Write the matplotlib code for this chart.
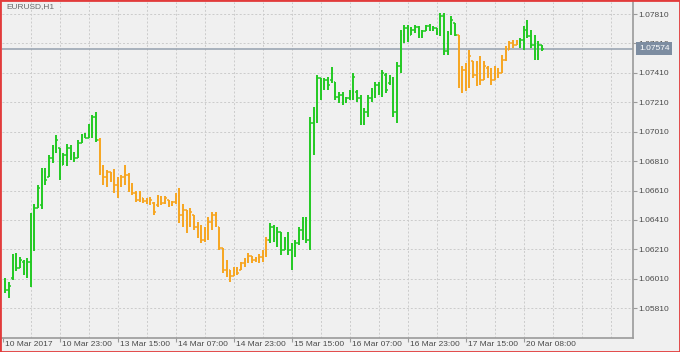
""" EURUSD H1 bar chart, redrawn in the style of a MetaTrader 4 window.

Bars are coloured by trend (green = up, orange = down).

Run as:

    python3 plot.py
"""

import numpy as np
import matplotlib
matplotlib.use("Agg")
import matplotlib.pyplot as plt
from matplotlib.patches import Rectangle

plt.rcParams['font.family'] = ['Liberation Sans', 'DejaVu Sans']

symbol = "EURUSD,H1"
last_price = 1.07574

# hourly bars, 10 Mar 2017 08:00 -> 20 Mar 2017 12:00
highs = [
    1.06015, 1.05988, 1.06178, 1.06185, 1.06158, 1.06137, 1.06151, 1.06457, 1.06518, 1.06647,
    1.06763, 1.06763, 1.06851, 1.06919, 1.06987, 1.06899, 1.06865, 1.06926, 1.06919, 1.06872,
    1.06953, 1.06994, 1.07001, 1.07062, 1.07123, 1.07144, 1.06967, 1.06783, 1.06749, 1.06736,
    1.06756, 1.06702, 1.06715, 1.06783, 1.06729, 1.06661, 1.06606, 1.06606, 1.06559, 1.06559,
    1.06566, 1.06532, 1.06579, 1.06572, 1.06572, 1.06545, 1.06538, 1.06593, 1.06627, 1.06518,
    1.06477, 1.06491, 1.06443, 1.06396, 1.06375, 1.06362, 1.06430, 1.06464, 1.06464, 1.06362,
    1.06219, 1.06137, 1.06069, 1.06090, 1.06090, 1.06124, 1.06151, 1.06185, 1.06164, 1.06158,
    1.06178, 1.06205, 1.06294, 1.06389, 1.06375, 1.06362, 1.06328, 1.06294, 1.06328, 1.06253,
    1.06273, 1.06362, 1.06430, 1.06430, 1.07110, 1.07178, 1.07395, 1.07375, 1.07375, 1.07382,
    1.07450, 1.07348, 1.07280, 1.07280, 1.07246, 1.07293, 1.07409, 1.07293, 1.07259, 1.07171,
    1.07259, 1.07307, 1.07348, 1.07348, 1.07429, 1.07409, 1.07395, 1.07382, 1.07484, 1.07701,
    1.07735, 1.07735, 1.07722, 1.07735, 1.07728, 1.07701, 1.07735, 1.07742, 1.07728, 1.07715,
    1.07817, 1.07817, 1.07694, 1.07796, 1.07749, 1.07667, 1.07456, 1.07477, 1.07565, 1.07490,
    1.07490, 1.07524, 1.07490, 1.07456, 1.07443, 1.07456, 1.07443, 1.07531, 1.07592, 1.07626,
    1.07633, 1.07633, 1.07647, 1.07728, 1.07769, 1.07701, 1.07667, 1.07626, 1.07599,
]
lows = [
    1.05913, 1.05879, 1.06001, 1.06062, 1.06083, 1.06035, 1.06015, 1.05954, 1.06198, 1.06491,
    1.06484, 1.06647, 1.06702, 1.06797, 1.06865, 1.06681, 1.06783, 1.06776, 1.06817, 1.06804,
    1.06831, 1.06933, 1.06967, 1.06967, 1.06967, 1.06940, 1.06715, 1.06647, 1.06634, 1.06668,
    1.06593, 1.06559, 1.06634, 1.06647, 1.06600, 1.06579, 1.06532, 1.06532, 1.06525, 1.06518,
    1.06511, 1.06443, 1.06498, 1.06511, 1.06518, 1.06498, 1.06504, 1.06518, 1.06389, 1.06362,
    1.06321, 1.06362, 1.06341, 1.06287, 1.06253, 1.06260, 1.06273, 1.06341, 1.06362, 1.06205,
    1.06049, 1.06022, 1.05988, 1.06028, 1.06035, 1.06069, 1.06090, 1.06117, 1.06117, 1.06124,
    1.06117, 1.06124, 1.06158, 1.06253, 1.06260, 1.06226, 1.06171, 1.06205, 1.06171, 1.06069,
    1.06158, 1.06239, 1.06273, 1.06253, 1.06205, 1.06851, 1.07069, 1.07225, 1.07293, 1.07293,
    1.07341, 1.07225, 1.07205, 1.07191, 1.07205, 1.07225, 1.07225, 1.07212, 1.07055, 1.07055,
    1.07110, 1.07212, 1.07239, 1.07259, 1.07246, 1.07273, 1.07327, 1.07110, 1.07069, 1.07409,
    1.07613, 1.07620, 1.07667, 1.07681, 1.07647, 1.07647, 1.07694, 1.07694, 1.07694, 1.07667,
    1.07660, 1.07531, 1.07531, 1.07667, 1.07660, 1.07307, 1.07273, 1.07286, 1.07307, 1.07375,
    1.07320, 1.07327, 1.07361, 1.07375, 1.07327, 1.07361, 1.07375, 1.07409, 1.07490, 1.07565,
    1.07579, 1.07599, 1.07579, 1.07565, 1.07647, 1.07579, 1.07497, 1.07497, 1.07558,
]
opens = [
    1.05988, 1.05933, 1.06015, 1.06151, 1.06083, 1.06124, 1.06049, 1.06124, 1.06273, 1.06491,
    1.06511, 1.06736, 1.06702, 1.06831, 1.06899, 1.06899, 1.06783, 1.06851, 1.06899, 1.06851,
    1.06831, 1.06933, 1.06987, 1.06967, 1.07055, 1.07110, 1.06953, 1.06749, 1.06702, 1.06736,
    1.06681, 1.06647, 1.06647, 1.06702, 1.06715, 1.06627, 1.06593, 1.06545, 1.06559, 1.06538,
    1.06525, 1.06525, 1.06511, 1.06566, 1.06525, 1.06545, 1.06511, 1.06532, 1.06572, 1.06443,
    1.06477, 1.06375, 1.06443, 1.06362, 1.06321, 1.06273, 1.06341, 1.06396, 1.06443, 1.06362,
    1.06219, 1.06069, 1.06069, 1.06028, 1.06069, 1.06069, 1.06117, 1.06137, 1.06164, 1.06137,
    1.06151, 1.06158, 1.06185, 1.06273, 1.06362, 1.06287, 1.06328, 1.06205, 1.06273, 1.06205,
    1.06219, 1.06253, 1.06341, 1.06396, 1.06273, 1.07069, 1.07110, 1.07375, 1.07307, 1.07361,
    1.07361, 1.07348, 1.07246, 1.07259, 1.07212, 1.07239, 1.07280, 1.07280, 1.07239, 1.07069,
    1.07144, 1.07239, 1.07280, 1.07327, 1.07280, 1.07395, 1.07341, 1.07375, 1.07144, 1.07456,
    1.07667, 1.07715, 1.07667, 1.07701, 1.07722, 1.07667, 1.07694, 1.07728, 1.07701, 1.07715,
    1.07681, 1.07796, 1.07558, 1.07681, 1.07749, 1.07667, 1.07327, 1.07429, 1.07320, 1.07490,
    1.07395, 1.07456, 1.07361, 1.07443, 1.07395, 1.07361, 1.07429, 1.07409, 1.07497, 1.07565,
    1.07613, 1.07599, 1.07620, 1.07633, 1.07701, 1.07660, 1.07599, 1.07531, 1.07599,
]
closes = [
    1.05933, 1.05960, 1.06151, 1.06083, 1.06137, 1.06049, 1.06124, 1.06443, 1.06491, 1.06627,
    1.06736, 1.06681, 1.06831, 1.06899, 1.06953, 1.06702, 1.06851, 1.06899, 1.06851, 1.06831,
    1.06933, 1.06987, 1.06967, 1.07055, 1.07110, 1.06953, 1.06749, 1.06702, 1.06736, 1.06681,
    1.06647, 1.06579, 1.06702, 1.06715, 1.06627, 1.06593, 1.06545, 1.06579, 1.06538, 1.06525,
    1.06545, 1.06464, 1.06566, 1.06525, 1.06559, 1.06511, 1.06532, 1.06572, 1.06443, 1.06477,
    1.06375, 1.06464, 1.06362, 1.06321, 1.06273, 1.06341, 1.06396, 1.06443, 1.06375, 1.06219,
    1.06069, 1.06124, 1.06028, 1.06069, 1.06049, 1.06117, 1.06137, 1.06164, 1.06137, 1.06151,
    1.06158, 1.06185, 1.06273, 1.06362, 1.06287, 1.06328, 1.06205, 1.06273, 1.06205, 1.06219,
    1.06253, 1.06341, 1.06396, 1.06273, 1.07069, 1.06919, 1.07375, 1.07259, 1.07361, 1.07327,
    1.07429, 1.07246, 1.07259, 1.07212, 1.07239, 1.07280, 1.07382, 1.07239, 1.07069, 1.07144,
    1.07239, 1.07280, 1.07327, 1.07280, 1.07409, 1.07293, 1.07375, 1.07144, 1.07456, 1.07667,
    1.07715, 1.07647, 1.07701, 1.07722, 1.07667, 1.07694, 1.07728, 1.07701, 1.07715, 1.07681,
    1.07796, 1.07558, 1.07681, 1.07769, 1.07667, 1.07327, 1.07429, 1.07307, 1.07524, 1.07395,
    1.07456, 1.07361, 1.07456, 1.07395, 1.07361, 1.07429, 1.07409, 1.07497, 1.07565, 1.07613,
    1.07599, 1.07620, 1.07633, 1.07701, 1.07660, 1.07599, 1.07531, 1.07599, 1.07574,
]

# trend indicator: runs of (direction, number of bars)
trend_runs = [("up", 26), ("down", 47), ("up", 52), ("down", 17), ("up", 7)]

price_ticks = [1.05810, 1.06010, 1.06210, 1.06410, 1.06610, 1.06810,
               1.07010, 1.07210, 1.07410, 1.07610, 1.07810]
time_labels = ["10 Mar 2017", "10 Mar 23:00", "13 Mar 15:00", "14 Mar 07:00",
               "14 Mar 23:00", "15 Mar 15:00", "16 Mar 07:00", "16 Mar 23:00",
               "17 Mar 15:00", "20 Mar 08:00"]
time_label_bars = [-0.7, 15, 31, 47, 63, 79, 95, 111, 127, 143]

UP_COLOR = "#22c922"
DOWN_COLOR = "#f7a520"
BG = "#f0f0f0"
GRID = "#cbcbcb"
AXIS = "#9a9a9a"
TEXT = "#4a4a4a"


def main():
    x = np.arange(len(highs))
    colors = []
    for trend, n in trend_runs:
        colors += [UP_COLOR if trend == "up" else DOWN_COLOR] * n

    fig = plt.figure(figsize=(6.8, 3.52), dpi=100, facecolor=BG)
    ax = fig.add_axes([2 / 680, 14 / 352, 631 / 680, 336 / 352], facecolor=BG)
    ax.set_xlim(-0.94, 173.1)
    ax.set_ylim(1.05607, 1.07892)

    # grid
    for p in price_ticks:
        ax.axhline(p, color=GRID, lw=0.7, ls=(0, (2, 2)), zorder=0)
    for b in np.arange(7, 170, 8):
        ax.axvline(b, color=GRID, lw=0.7, ls=(0, (2, 2)), zorder=0)

    # last price line
    ax.axhline(last_price, color="#94a0ae", lw=1.1, zorder=1)

    # OHLC bars
    ax.vlines(x, lows, highs, colors=colors, lw=1.4, zorder=2)
    ax.hlines(opens, x - 0.45, x, colors=colors, lw=1.1, zorder=2)
    ax.hlines(closes, x, x + 0.45, colors=colors, lw=1.1, zorder=2)

    for side in ("left", "top"):
        ax.spines[side].set_visible(False)
    for side in ("right", "bottom"):
        ax.spines[side].set_color(AXIS)
        ax.spines[side].set_linewidth(1.2)

    ax.yaxis.tick_right()
    ax.set_yticks(price_ticks)
    ax.set_yticklabels([f"{p:.5f}" for p in price_ticks])
    ax.tick_params(axis="y", direction="out", length=3, width=0.8, color=AXIS,
                   pad=1, labelsize=6, labelcolor=TEXT)
    ax.set_xticks(time_label_bars)
    ax.set_xticklabels([])
    ax.tick_params(axis="x", direction="out", length=3, width=0.8, color=AXIS)
    for b, lab in zip(time_label_bars, time_labels):
        ax.annotate(lab, xy=(b, 0), xycoords=("data", "axes fraction"),
                    xytext=(1.5, -2.2), textcoords="offset points",
                    ha="left", va="top", fontsize=6, color=TEXT,
                    annotation_clip=False)

    # price label box on the axis (covers the 1.07610 label, as in MT4)
    ax.annotate(f"{last_price:.5f}", xy=(1, last_price),
                xycoords=("axes fraction", "data"), xytext=(4.3, 0),
                textcoords="offset points", ha="left", va="center",
                fontsize=6, color="white", annotation_clip=False, zorder=5,
                bbox=dict(boxstyle="square,pad=0.35", fc="#7d8da1", ec="none"))

    fig.text(6 / 680, 1 - 7 / 352, symbol, ha="left", va="center",
             fontsize=6, color="#6a6a6a")

    fig.add_artist(Rectangle((0, 0), 1, 1, transform=fig.transFigure,
                             fill=False, ec="#e23b3b", lw=2))

    fig.savefig("out.png", dpi=100, facecolor=BG)


if __name__ == '__main__':
    main()
